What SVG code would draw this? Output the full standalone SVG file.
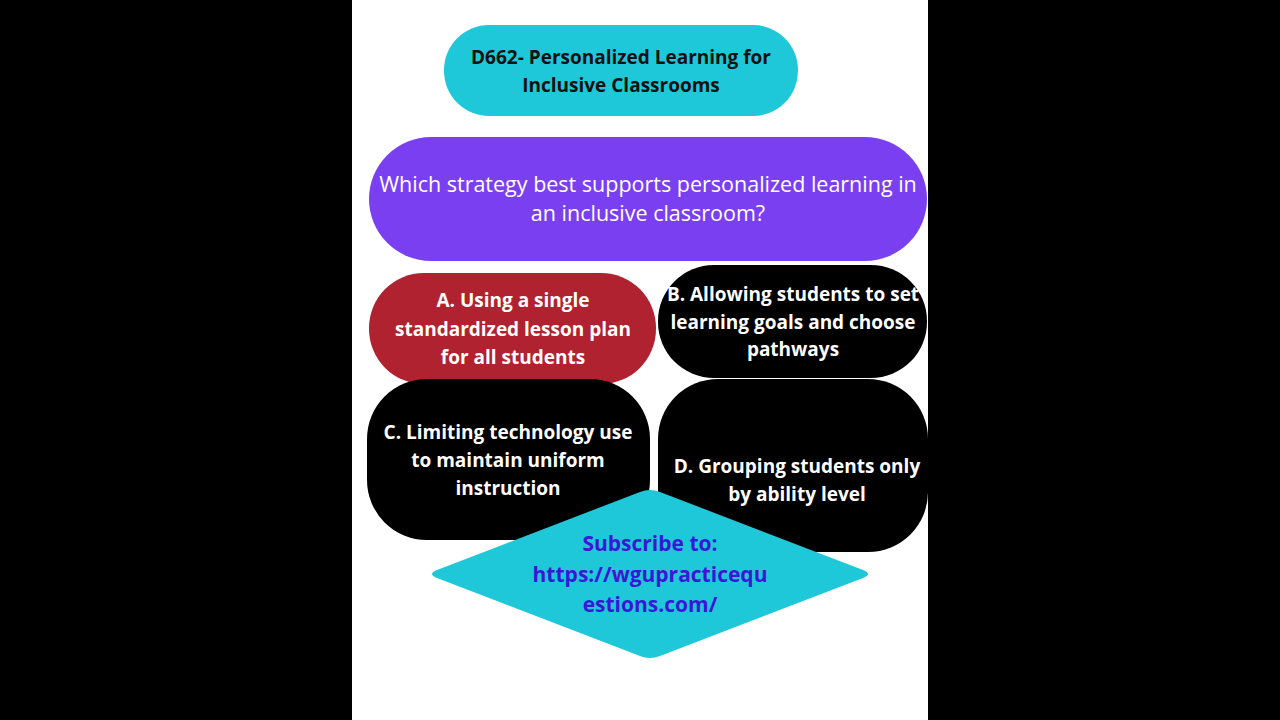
<svg xmlns="http://www.w3.org/2000/svg" width="1280" height="720" viewBox="0 0 1280 720">
<style>
text{font-family:"Open Sans","Liberation Sans",sans-serif;text-anchor:middle}
.b{font-weight:700;font-size:19px;fill:#fff}
.t{font-weight:700;font-size:19px;fill:#111}
.q{font-size:21.5px;fill:#fff}
.s{font-weight:700;font-size:21px;fill:#3a16d8}
</style>
<rect width="1280" height="720" fill="#000"/>
<rect x="352" y="0" width="576" height="720" fill="#fff"/>
<g id="title"><rect x="444" y="25" width="354" height="91" rx="45" fill="#1ec8d8"/>
<text class="t" x="621" y="64">D662- Personalized Learning for</text><text class="t" x="621" y="92">Inclusive Classrooms</text></g>
<g id="question"><rect x="369" y="137" width="558" height="124" rx="62" fill="#7b3ff2"/>
<text class="q" x="648" y="192">Which strategy best supports personalized learning in</text><text class="q" x="648" y="221">an inclusive classroom?</text></g>
<g id="optA"><rect x="369" y="273" width="287" height="111" rx="55" fill="#b0222f"/>
<text class="b" x="513" y="307">A. Using a single</text><text class="b" x="513" y="336">standardized lesson plan</text><text class="b" x="513" y="364">for all students</text></g>
<g id="optB"><rect x="658" y="265" width="269" height="113" rx="56" fill="#000"/>
<text class="b" x="793" y="301">B. Allowing students to set</text><text class="b" x="793" y="329">learning goals and choose</text><text class="b" x="793" y="356">pathways</text></g>
<g id="optC"><rect x="367" y="379" width="283" height="161" rx="60" fill="#000"/>
<text class="b" x="508" y="439">C. Limiting technology use</text><text class="b" x="508" y="467">to maintain uniform</text><text class="b" x="508" y="495">instruction</text></g>
<g id="optD"><rect x="658" y="379" width="270" height="173" rx="60" fill="#000"/>
<text class="b" x="797" y="473">D. Grouping students only</text><text class="b" x="797" y="501">by ability level</text></g>
<g id="subscribe"><path d="M437 570 L640 492 Q650 488 660 492 L863 570 Q873 574 863 578 L660 656 Q650 660 640 656 L437 578 Q427 574 437 570 Z" fill="#1ec8d8"/>
<text class="s" x="650" y="551">Subscribe to:</text><text class="s" x="650" y="582">https://wgupracticequ</text><text class="s" x="650" y="612">estions.com/</text></g>
<g id="connectors"></g>
</svg>
